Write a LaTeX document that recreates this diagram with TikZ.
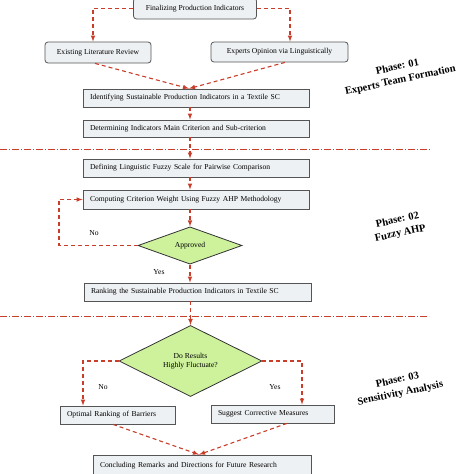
\documentclass[tikz,border=0pt]{standalone}
\usepackage{fontspec}
\setmainfont{Liberation Serif}
\usetikzlibrary{arrows}
\usetikzlibrary{shapes.geometric}

\definecolor{flowred}{RGB}{200,62,42}
\definecolor{boxfill}{RGB}{238,241,243}
\definecolor{boxline}{RGB}{85,85,85}
\definecolor{decfill}{RGB}{206,242,156}

\begin{document}
\begin{tikzpicture}[x=1pt, y=-1pt,
    stepbox/.style={draw=boxline, fill=boxfill, line width=0.8pt, inner xsep=7pt, inner ysep=0pt, align=left, font=\fontsize{7.6}{8.5}\selectfont},
    roundbox/.style={stepbox, rounded corners=3pt, align=center},
    decision/.style={diamond, draw=black!80, fill=decfill, line width=0.8pt, inner sep=0pt, align=center, font=\fontsize{7.6}{9.5}\selectfont},
    flow/.style={draw=flowred, line width=1.1pt, dash pattern=on 4pt off 3pt, -latex},
    phaseline/.style={draw=flowred, line width=1pt, dash pattern=on 7pt off 2pt on 1pt off 2pt},
    phaselabel/.style={font=\fontsize{10.5}{13.5}\selectfont\bfseries, align=center, rotate=12},
    answer/.style={font=\fontsize{7.6}{8.5}\selectfont}]
      \useasboundingbox (0, 0) rectangle (474, 474);

      \node [roundbox, minimum width=123pt, minimum height=21pt] (fin) at (195, 8.5) {Finalizing Production Indicators};
      \node [roundbox, minimum width=106pt, minimum height=21pt] (lit) at (98, 52.5) {Existing Literature Review};
      \node [roundbox, minimum width=137pt, minimum height=20pt] (exp) at (279.5, 52) {Experts Opinion via Linguistically};

      \node [stepbox, text width=212pt, minimum height=18pt] (iden) at (196, 98) {Identifying Sustainable Production Indicators in a Textile SC};
      \node [stepbox, text width=212pt, minimum height=17pt] (det) at (196, 128.5) {Determining Indicators Main Criterion and Sub-criterion};
      \node [stepbox, text width=212pt, minimum height=18pt] (def) at (196, 168) {Defining Linguistic Fuzzy Scale for Pairwise Comparison};
      \node [stepbox, text width=212pt, minimum height=19pt] (comp) at (196, 199.5) {Computing Criterion Weight Using Fuzzy AHP Methodology};
      \node [decision, minimum width=104pt, minimum height=35pt] (appr) at (190, 245.5) {Approved};
      \node [stepbox, text width=213pt, minimum height=18pt] (rank) at (197.5, 292) {Ranking the Sustainable Production Indicators in Textile SC};
      \node [decision, minimum width=143pt, minimum height=54pt] (fluct) at (190.5, 361) {Do Results\\Highly Fluctuate?};
      \node [stepbox, text width=101pt, minimum height=18pt] (opt) at (117.5, 415) {Optimal Ranking of Barriers};
      \node [stepbox, text width=109pt, minimum height=18pt] (sug) at (272.5, 414) {Suggest Corrective Measures};
      \node [stepbox, text width=204pt, minimum height=22pt] (conc) at (202, 466) {Concluding Remarks and Directions for Future Research};

      \draw [flow] (fin.west) -| ([xshift=-5pt]lit.north);
      \draw [flow] (fin.east) -| ([xshift=10.5pt]exp.north);
      \draw [flow] ([xshift=-3pt]lit.south) -- ([xshift=-7pt]iden.north);
      \draw [flow] ([xshift=5.5pt]exp.south) -- ([xshift=-7pt]iden.north);
      \draw [flow] (iden.south -| appr.north) -- (det.north -| appr.north);
      \draw [flow] (det.south -| appr.north) -- (def.north -| appr.north);
      \draw [flow] (def.south -| appr.north) -- (comp.north -| appr.north);
      \draw [flow] (comp.south -| appr.north) -- (appr.north);
      \draw [flow] (appr.south) -- (rank.north -| appr.south);
      \draw [flow] (rank.south -| fluct.north) -- (fluct.north);

      \coordinate (loop) at (59, 245.5);
      \draw [flow] (appr.west) -- (loop) |- (comp.west);
      \node [answer] (noloop) at (94, 233) {No};
      \node [answer] (yesappr) at (159, 272) {Yes};

      \draw [flow] (fluct.west) -| ([xshift=-34.5pt]opt.north);
      \draw [flow] (fluct.east) -| ([xshift=29.5pt]sug.north);
      \node [answer] (noopt) at (103, 387) {No};
      \node [answer] (yessug) at (275, 387) {Yes};
      \draw [flow] ([xshift=-4.5pt]opt.south) -- ([xshift=-3pt]conc.north);
      \draw [flow] ([xshift=14.5pt]sug.south) -- ([xshift=-3pt]conc.north);

      \draw [phaseline] (0, 149) -- (430, 149);
      \draw [phaseline] (0, 316) -- (429, 316);

      \node [phaselabel] (phaseA) at (399, 74) {Phase: 01\\Experts Team Formation};
      \node [phaselabel] (phaseB) at (399, 227) {Phase: 02\\Fuzzy AHP};
      \node [phaselabel] (phaseC) at (399, 387) {Phase: 03\\Sensitivity Analysis};
    \end{tikzpicture}
\end{document}
